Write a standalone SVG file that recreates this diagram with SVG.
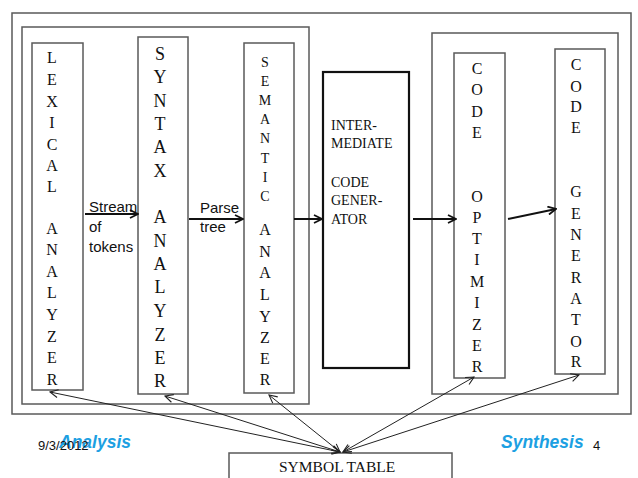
<svg xmlns="http://www.w3.org/2000/svg" width="638" height="478" viewBox="0 0 638 478">
<style>
.frame{fill:none;stroke:#5a5a5a;stroke-width:1.5}
.box{fill:#fff;stroke:#5a5a5a;stroke-width:1.5}
.ibox{fill:#fff;stroke:#111;stroke-width:2.2}
.serif{font-family:"Liberation Serif","Times New Roman",serif;fill:#111}
.sans{font-family:"Liberation Sans",Arial,sans-serif;fill:#111}
.flow{stroke:#111;stroke-width:2;fill:none;marker-end:url(#ah)}
.sym{stroke:#222;stroke-width:1;fill:none;marker-start:url(#sh);marker-end:url(#sh)}
.blue{font-family:"Liberation Sans",Arial,sans-serif;font-weight:bold;font-style:italic;fill:#1ca0e2;font-size:17.5px}
</style>
<defs>
<marker id="ah" viewBox="0 0 10 10" refX="9" refY="5" markerWidth="10" markerHeight="10" markerUnits="userSpaceOnUse" orient="auto">
<path d="M1,1 L9,5 L1,9" fill="none" stroke="#111" stroke-width="1.8"/>
</marker>
<marker id="sh" viewBox="0 0 10 10" refX="9" refY="5" markerWidth="10" markerHeight="10" markerUnits="userSpaceOnUse" orient="auto-start-reverse">
<path d="M1,1 L9,5 L1,9" fill="none" stroke="#222" stroke-width="1.1"/>
</marker>
</defs>
<rect width="638" height="478" fill="#fff"/>
<rect class="frame" x="12" y="13" width="619" height="401"/>
<rect class="frame" x="22" y="27" width="287" height="377"/>
<rect class="frame" x="432" y="33" width="186" height="361"/>

<g id="lexical">
<rect class="box" x="32" y="43" width="51" height="347"/>
<text class="serif" font-size="16" text-anchor="middle">
<tspan x="52" y="63">L</tspan><tspan x="52" y="85">E</tspan><tspan x="52" y="107">X</tspan><tspan x="52" y="128">I</tspan><tspan x="52" y="150">C</tspan><tspan x="52" y="171">A</tspan><tspan x="52" y="192">L</tspan><tspan x="52" y="234">A</tspan><tspan x="52" y="255">N</tspan><tspan x="52" y="277">A</tspan><tspan x="52" y="298">L</tspan><tspan x="52" y="320">Y</tspan><tspan x="52" y="342">Z</tspan><tspan x="52" y="363">E</tspan><tspan x="52" y="385">R</tspan>
</text>
</g>

<g id="syntax">
<rect class="box" x="138" y="37" width="50" height="357"/>
<text class="serif" font-size="18" text-anchor="middle">
<tspan x="160" y="60">S</tspan><tspan x="160" y="83">Y</tspan><tspan x="160" y="107">N</tspan><tspan x="160" y="130">T</tspan><tspan x="160" y="153">A</tspan><tspan x="160" y="177">X</tspan><tspan x="160" y="223">A</tspan><tspan x="160" y="247">N</tspan><tspan x="160" y="270">A</tspan><tspan x="160" y="293">L</tspan><tspan x="160" y="317">Y</tspan><tspan x="160" y="341">Z</tspan><tspan x="160" y="364">E</tspan><tspan x="160" y="387">R</tspan>
</text>
</g>

<g id="semantic">
<rect class="box" x="244" y="43" width="50" height="350"/>
<text class="serif" font-size="14" text-anchor="middle">
<tspan x="265" y="67">S</tspan><tspan x="265" y="86">E</tspan><tspan x="265" y="105">M</tspan><tspan x="265" y="124">A</tspan><tspan x="265" y="143">N</tspan><tspan x="265" y="163">T</tspan><tspan x="265" y="182">I</tspan><tspan x="265" y="201">C</tspan>
</text>
<text class="serif" font-size="16" text-anchor="middle">
<tspan x="265" y="235">A</tspan><tspan x="265" y="257">N</tspan><tspan x="265" y="278">A</tspan><tspan x="265" y="300">L</tspan><tspan x="265" y="322">Y</tspan><tspan x="265" y="343">Z</tspan><tspan x="265" y="364">E</tspan><tspan x="265" y="385">R</tspan>
</text>
</g>

<g id="intermediate">
<rect class="ibox" x="323" y="72" width="86" height="296"/>
<text class="serif" font-size="14">
<tspan x="331" y="130">INTER-</tspan><tspan x="331" y="148">MEDIATE</tspan><tspan x="331" y="187">CODE</tspan><tspan x="331" y="205">GENER-</tspan><tspan x="331" y="224">ATOR</tspan>
</text>
</g>

<g id="optimizer">
<rect class="box" x="454" y="53" width="51" height="325"/>
<text class="serif" font-size="16" text-anchor="middle">
<tspan x="477" y="74">C</tspan><tspan x="477" y="95">O</tspan><tspan x="477" y="117">D</tspan><tspan x="477" y="138">E</tspan><tspan x="477" y="202">O</tspan><tspan x="477" y="223">P</tspan><tspan x="477" y="244">T</tspan><tspan x="477" y="265">I</tspan><tspan x="477" y="287">M</tspan><tspan x="477" y="308">I</tspan><tspan x="477" y="330">Z</tspan><tspan x="477" y="351">E</tspan><tspan x="477" y="372">R</tspan>
</text>
</g>

<g id="generator">
<rect class="box" x="555" y="49" width="50" height="325"/>
<text class="serif" font-size="16" text-anchor="middle">
<tspan x="576" y="70">C</tspan><tspan x="576" y="92">O</tspan><tspan x="576" y="112">D</tspan><tspan x="576" y="133">E</tspan><tspan x="576" y="197">G</tspan><tspan x="576" y="219">E</tspan><tspan x="576" y="240">N</tspan><tspan x="576" y="261">E</tspan><tspan x="576" y="283">R</tspan><tspan x="576" y="304">A</tspan><tspan x="576" y="325">T</tspan><tspan x="576" y="347">O</tspan><tspan x="576" y="367">R</tspan>
</text>
</g>

<g id="symbol-table">
<rect class="box" x="229" y="453" width="223" height="30"/>
<text class="serif" font-size="15.5" x="279" y="472">SYMBOL TABLE</text>
</g>

<g id="connectors">
<path class="flow" d="M85,214 L138,214"/>
<path class="flow" d="M189,219 L243,219"/>
<path class="flow" d="M294,219 L322,219"/>
<path class="flow" d="M413,219 L456,219"/>
<path class="flow" d="M508,219 L556,209"/>
<path class="sym" d="M340,452 L50,392"/>
<path class="sym" d="M340,452 L165,396"/>
<path class="sym" d="M340,452 L269,395"/>
<path class="sym" d="M343,452 L474,377"/>
<path class="sym" d="M343,452 L579,375"/>
</g>

<g id="labels">
<text class="sans" font-size="15"><tspan x="89" y="212">Stream</tspan><tspan x="89" y="232">of</tspan><tspan x="89" y="252">tokens</tspan></text>
<text class="sans" font-size="15"><tspan x="200" y="213">Parse</tspan><tspan x="200" y="232">tree</tspan></text>
<text class="blue" x="59" y="448">Analysis</text>
<text class="sans" font-size="13" x="38" y="450">9/3/2012</text>
<text class="blue" x="501" y="448">Synthesis</text>
<text class="sans" font-size="13" x="593" y="450">4</text>
</g>
</svg>
